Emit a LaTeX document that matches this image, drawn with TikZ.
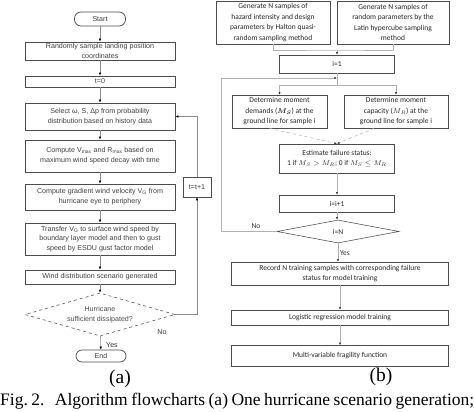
\documentclass[tikz,border=0pt]{standalone}
\usepackage{fontspec}
\usepackage{amsmath}
\setmainfont{Liberation Serif}
\newfontfamily\afont{Liberation Sans}
\newfontfamily\bfont{Carlito}
\usetikzlibrary{shapes.geometric,arrows.meta,positioning}
\tikzset{
	abox/.style={draw=black!70,line width=0.7pt,fill=white,align=center,inner sep=0pt,text=black!75,font=\afont\fontsize{7.1}{9.8}\selectfont},
	aend/.style={abox,rounded corners=6.5pt},
	adia/.style={diamond,draw=black!65,dashed,line width=0.6pt,aspect=3.5,inner sep=0pt,align=center,text=black!70,font=\afont\fontsize{7.1}{9.8}\selectfont},
	bbox/.style={draw=black!70,line width=0.55pt,align=center,inner sep=0pt,text=black!85,font=\bfont\fontsize{7.5}{10.5}\selectfont},
	bdia/.style={bbox,diamond,aspect=5.3},
	aline/.style={draw=black!45,line width=0.6pt,-{Latex[length=3pt,width=2.6pt,color=black]}},
	bline/.style={draw=black!30,line width=0.5pt,-{Latex[length=2.6pt,width=2.2pt,color=black!80]}},
	lab/.style={inner sep=0pt,text=black!80},
	captext/.style={inner sep=0pt,text=black,font=\rmfamily\fontsize{19.5}{22}\selectfont},
}
\begin{document}
\begin{tikzpicture}[x=1pt,y=-1pt]
		\useasboundingbox (0,0) rectangle (474,412);
		\node[aend,minimum width=51pt,minimum height=14pt] (start) at (100,19){Start};
		\node[abox,minimum width=150pt,minimum height=18pt] (rnd) at (100,51){Randomly sample landing position\\coordinates};
		\node[abox,minimum width=150pt,minimum height=11pt] (tz) at (100,81.5){t=0};
		\node[abox,minimum width=150pt,minimum height=27pt] (sel) at (100,116.5){Select ω, S, Δp from probability\\distribution based on history data};
		\node[abox,minimum width=150pt,minimum height=32pt] (vmax) at (100,156){Compute V\textsubscript{max} and R\textsubscript{max} based on\\maximum wind speed decay with time};
		\node[abox,minimum width=150pt,minimum height=26pt] (grad) at (100,197){Compute gradient wind velocity V\textsubscript{G} from\\hurricane eye to periphery};
		\node[abox,minimum width=150pt,minimum height=32pt] (trans) at (100,239){Transfer V\textsubscript{G} to surface wind speed by\\boundary layer model and then to gust\\speed by ESDU gust factor model};
		\node[abox,minimum width=150pt,minimum height=14pt] (wind) at (100,277){Wind distribution scenario generated};
		\node[adia,minimum width=150pt,minimum height=43pt] (hdia) at (100,314.5){Hurricane\\sufficient dissipated?};
		\node[aend,minimum width=50pt,minimum height=12pt,rounded corners=6pt] (end) at (101,356){End};
		\node[abox,minimum width=28pt,minimum height=20pt,line width=0.5pt] (tinc) at (197,187){t=t+1};
		\node[lab,font=\afont\fontsize{7.1}{8}\selectfont] (noa) at (162,332){No};
		\node[lab,font=\afont\fontsize{7.1}{8}\selectfont] (yesa) at (112,345){Yes};
		\foreach \a/\b in {start/rnd,rnd/tz,tz/sel,sel/vmax,vmax/grad,grad/trans,trans/wind,wind/hdia,hdia/end}
			\draw[aline] (\a) -- (\b);
		\draw[aline] (hdia.east) -| (tinc.south);
		\draw[aline] (tinc.north) |- (sel.east);
		\node[bbox,minimum width=114pt,minimum height=43pt] (gha) at (273,22.5){Generate N samples of\\hazard intensity and design\\parameters by Halton quasi-\\random sampling method};
		\node[bbox,minimum width=112pt,minimum height=43pt] (glhs) at (393,22.5){Generate N samples of\\random parameters by the\\Latin hypercube sampling\\method};
		\node[bbox,minimum width=115pt,minimum height=18pt] (ione) at (337,64){i=1};
		\node[bbox,minimum width=95pt,minimum height=33pt] (dem) at (279.5,111.5){Determine moment\\demands ($\boldsymbol{M_S}$) at the\\ground line for sample i};
		\node[bbox,minimum width=104pt,minimum height=33pt] (mr) at (396,111.5){Determine moment\\capacity ($M_R$) at the\\ground line for sample i};
		\node[bbox,minimum width=115pt,minimum height=29pt] (est) at (337,158.5){Estimate failure status:\\1 if $M_S > M_R$; 0 if $M_S \leq M_R$};
		\node[bbox,minimum width=115pt,minimum height=17pt] (iinc) at (337,203.5){i=i+1};
		\node[bdia,minimum width=122pt,minimum height=23pt] (ndia) at (338,231.5){i=N};
		\node[bbox,minimum width=217pt,minimum height=23pt] (rec) at (340,273.5){Record N training samples with corresponding failure\\status for model training};
		\node[bbox,minimum width=217pt,minimum height=15pt] (logi) at (340,317.5){Logistic regression model training};
		\node[bbox,minimum width=217pt,minimum height=21pt] (multi) at (340,356){Multi-variable fragility function};
		\node[lab,font=\bfont\fontsize{7.5}{8}\selectfont] (nob) at (256,226){No};
		\node[lab,font=\bfont\fontsize{7.5}{8}\selectfont] (yesb) at (345,253){Yes};
		\coordinate (mj) at (337,50);
		\coordinate (lp) at (337,78);
		\coordinate (sp) at (337,85);
		\draw[draw=black!30,line width=0.5pt] (gha.south) |- (mj) -| (glhs.south);
		\draw[bline] (mj) -- (ione.north);
		\draw[draw=black!30,line width=0.5pt] (ione.south) -- (sp);
		\draw[bline] (sp) -| (dem.north);
		\draw[bline] (sp) -| (mr.north);
		\draw[bline,dashed] ([xshift=-10pt]dem.south) -- (est.north);
		\draw[bline,dashed] ([xshift=-22pt]mr.south) -- (est.north);
		\draw[bline] (est) -- (iinc);
		\draw[bline] (iinc.south) -- (iinc.south |- ndia.north);
		\draw[bline] (ndia.west) -- ++(-55,0) |- (lp);
		\draw[bline] (ndia.south) -- (ndia.south |- rec.north);
		\draw[bline] (rec.south) -- (logi.north);
		\draw[bline] (logi.south) -- (multi.north);
		\node[captext] (laba) at (120,379){(a)};
		\node[captext] (labb) at (381,377){(b)};
		\node[captext,anchor=base west,font=\rmfamily\fontsize{17.5}{20}\selectfont] (capt) at (0,405){\makebox[474pt][s]{Fig.~2.\ \ \ Algorithm flowcharts (a) One hurricane scenario generation;}};
	\end{tikzpicture}
\end{document}
